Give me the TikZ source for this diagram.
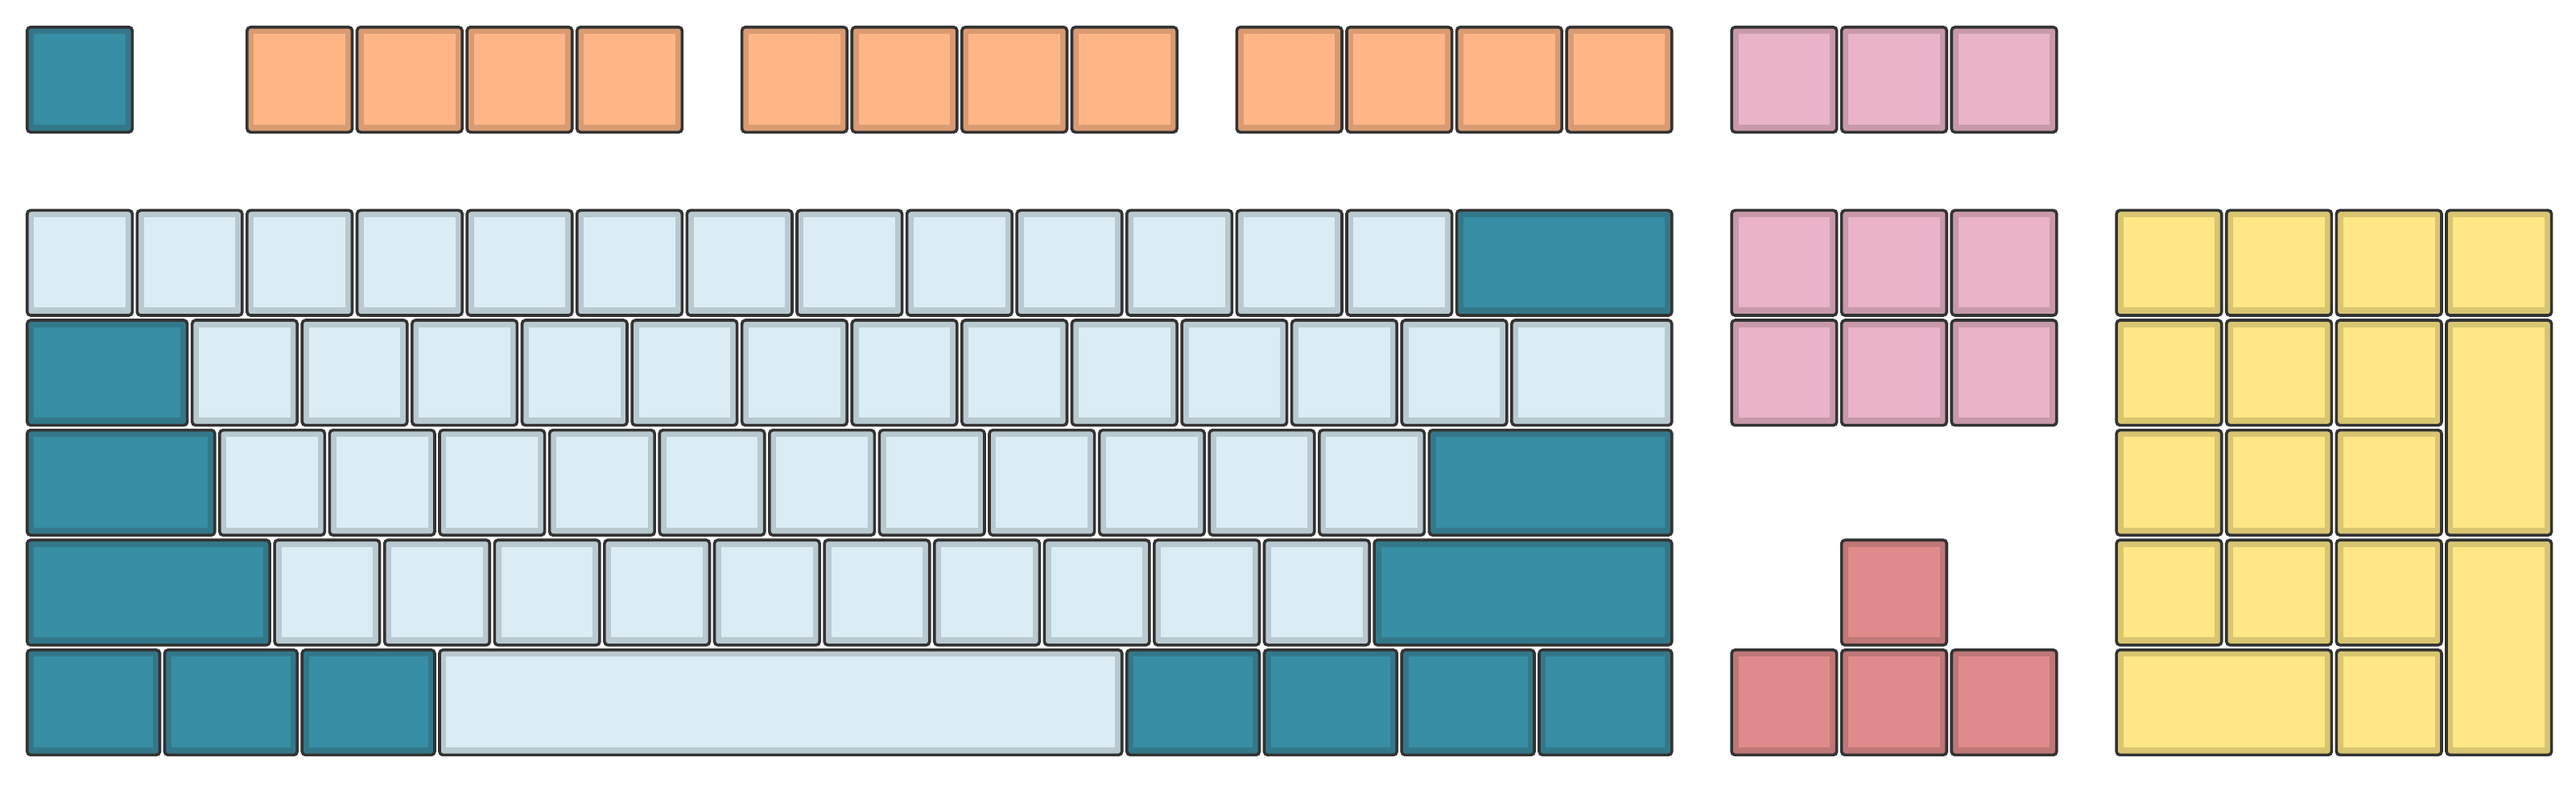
\documentclass[tikz,border=0pt]{standalone}
\usepackage{tikz}
\usetikzlibrary{positioning}

\definecolor{keyline}{HTML}{333333}
\definecolor{tealface}{HTML}{378EA5}
\definecolor{tealrim}{HTML}{33788A}
\definecolor{lightface}{HTML}{DAEDF4}
\definecolor{lightrim}{HTML}{B8C9CF}
\definecolor{orangeface}{HTML}{FFB686}
\definecolor{orangerim}{HTML}{D99B72}
\definecolor{pinkface}{HTML}{EAB3C9}
\definecolor{pinkrim}{HTML}{C799AB}
\definecolor{redface}{HTML}{E08B8B}
\definecolor{redrim}{HTML}{BF7777}
\definecolor{yellowface}{HTML}{FEE784}
\definecolor{yellowrim}{HTML}{D8C571}

\tikzset{
  keycap/.style={draw=keyline, line width=0.75pt, rounded corners=0.9pt,
    anchor=north west, inner sep=0pt, outer sep=0pt, fill=#1rim,
    path picture={\fill[#1face, sharp corners]
      ([xshift=0.062cm,yshift=0.07cm]path picture bounding box.south west) rectangle
      ([xshift=-0.062cm,yshift=-0.062cm]path picture bounding box.north east);}}
}
% \K{name}{x}{y}{w}{h}{colour}, x,y,w,h in key units
\newcommand{\K}[6]{\node[keycap=#6, minimum width=#4cm-0.044cm, minimum height=#5cm-0.044cm]
  (#1) at (#2+0.022,-#3-0.022) {};}

\begin{document}
\begin{tikzpicture}
\useasboundingbox[fill=white] (-0.225,0.225) rectangle (23.201,-6.927);

% function row
\K{esc}{0}{0}{1}{1}{teal}
\foreach \i/\x in {1/2,2/3,3/4,4/5,5/6.5,6/7.5,7/8.5,8/9.5,9/11,10/12,11/13,12/14}
  {\K{f\i}{\x}{0}{1}{1}{orange}}
\K{prtsc}{15.5}{0}{1}{1}{pink}
\K{scrlk}{16.5}{0}{1}{1}{pink}
\K{pause}{17.5}{0}{1}{1}{pink}

% number row
\foreach \i in {0,...,12}
  {\K{num\i}{\i}{1.667}{1}{1}{light}}
\K{bksp}{13}{1.667}{2}{1}{teal}

% tab row
\K{tab}{0}{2.667}{1.5}{1}{teal}
\foreach \i in {0,...,11}
  {\K{top\i}{1.5+\i}{2.667}{1}{1}{light}}
\K{bslash}{13.5}{2.667}{1.5}{1}{light}

% home row
\K{caps}{0}{3.667}{1.75}{1}{teal}
\foreach \i in {0,...,10}
  {\K{home\i}{1.75+\i}{3.667}{1}{1}{light}}
\K{enter}{12.75}{3.667}{2.25}{1}{teal}

% shift row
\K{lshift}{0}{4.667}{2.25}{1}{teal}
\foreach \i in {0,...,9}
  {\K{bot\i}{2.25+\i}{4.667}{1}{1}{light}}
\K{rshift}{12.25}{4.667}{2.75}{1}{teal}

% space row
\K{lctrl}{0}{5.667}{1.25}{1}{teal}
\K{lwin}{1.25}{5.667}{1.25}{1}{teal}
\K{lalt}{2.5}{5.667}{1.25}{1}{teal}
\K{space}{3.75}{5.667}{6.25}{1}{light}
\K{ralt}{10}{5.667}{1.25}{1}{teal}
\K{rwin}{11.25}{5.667}{1.25}{1}{teal}
\K{menu}{12.5}{5.667}{1.25}{1}{teal}
\K{rctrl}{13.75}{5.667}{1.25}{1}{teal}

% navigation block
\K{ins}{15.5}{1.667}{1}{1}{pink}
\K{hom}{16.5}{1.667}{1}{1}{pink}
\K{pgup}{17.5}{1.667}{1}{1}{pink}
\K{del}{15.5}{2.667}{1}{1}{pink}
\K{end}{16.5}{2.667}{1}{1}{pink}
\K{pgdn}{17.5}{2.667}{1}{1}{pink}

% arrows
\K{up}{16.5}{4.667}{1}{1}{red}
\K{left}{15.5}{5.667}{1}{1}{red}
\K{down}{16.5}{5.667}{1}{1}{red}
\K{right}{17.5}{5.667}{1}{1}{red}

% numpad
\K{numlk}{19}{1.667}{1}{1}{yellow}
\K{kpdiv}{20}{1.667}{1}{1}{yellow}
\K{kpmul}{21}{1.667}{1}{1}{yellow}
\K{kpsub}{22}{1.667}{1}{1}{yellow}
\foreach \i/\x in {7/19,8/20,9/21}
  {\K{kp\i}{\x}{2.667}{1}{1}{yellow}}
\K{kpadd}{22}{2.667}{1}{2}{yellow}
\foreach \i/\x in {4/19,5/20,6/21}
  {\K{kp\i}{\x}{3.667}{1}{1}{yellow}}
\foreach \i/\x in {1/19,2/20,3/21}
  {\K{kp\i}{\x}{4.667}{1}{1}{yellow}}
\K{kpent}{22}{4.667}{1}{2}{yellow}
\K{kp0}{19}{5.667}{2}{1}{yellow}
\K{kpdot}{21}{5.667}{1}{1}{yellow}
\end{tikzpicture}
\end{document}
